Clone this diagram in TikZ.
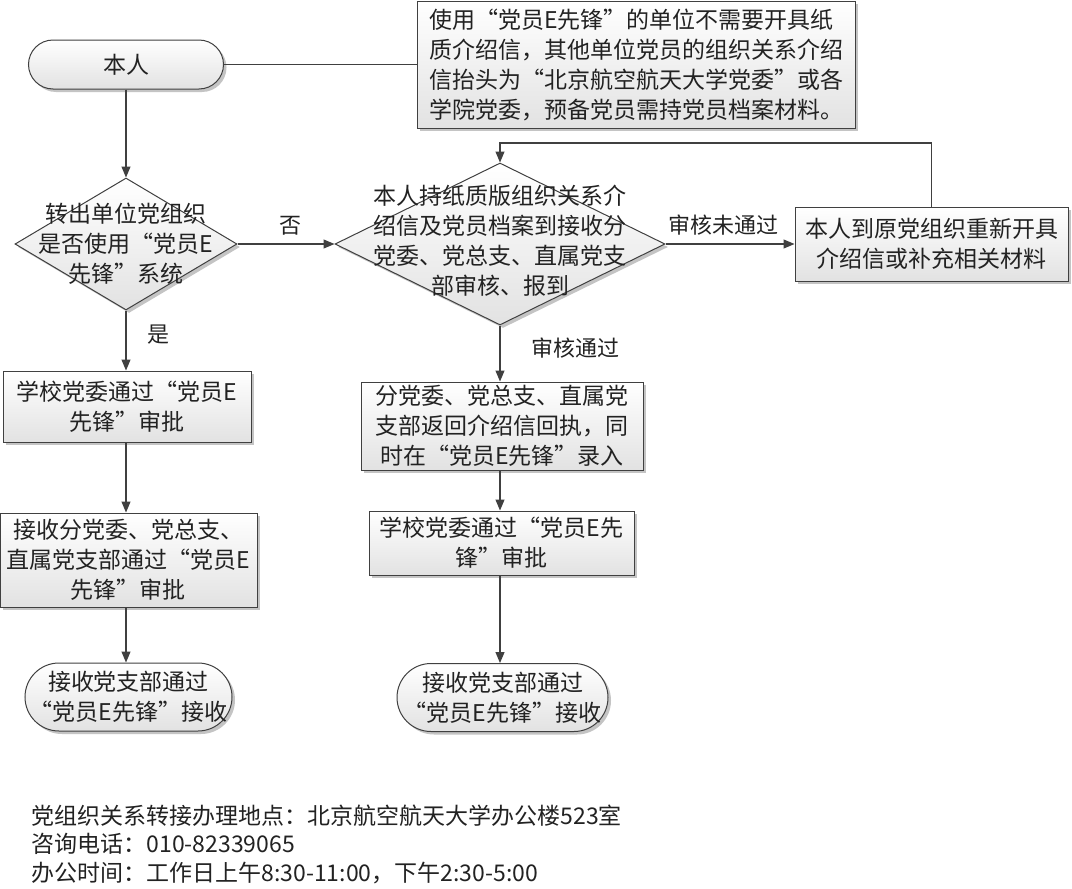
\documentclass[tikz,border=0pt]{standalone}
\usepackage{fontspec}
\setmainfont{Noto Sans CJK SC}
\usetikzlibrary{shapes.geometric,shadows,arrows.meta}
\definecolor{ln}{HTML}{404040}
\definecolor{fillb}{HTML}{E2E2E2}
\definecolor{shd}{HTML}{C4C4C4}
\definecolor{txt}{HTML}{222222}
\begin{document}
\begin{tikzpicture}[x=1pt,y=-1pt,
  every node/.style={font=\fontsize{23}{30}\selectfont, text=txt},
  shp/.style={draw=ln, line width=1pt, top color=white, bottom color=fillb,
    drop shadow={shadow xshift=3pt, shadow yshift=-3pt, fill=shd, opacity=1},
    inner sep=0pt, align=center},
  boxnode/.style={shp, rectangle},
  termnode/.style={shp, rectangle, rounded corners=#1},
  dianode/.style={shp, diamond},
  conn/.style={draw=ln, line width=1.2pt},
  arr/.style={conn, -{Triangle[length=11pt,width=9pt]}},
  lbl/.style={font=\fontsize{22}{24}\selectfont}
]
\useasboundingbox[fill=white] (0,0) rectangle (1072,889);

% nodes
\node[termnode=24.5pt, minimum width=195pt, minimum height=49pt] (start) at (126,64.5) {本人};
\node[boxnode, minimum width=438pt, minimum height=127pt, align=left] (note) at (636,64.5)
  {使用“党员E先锋”的单位不需要开具纸\\质介绍信，其他单位党员的组织关系介绍\\信抬头为“北京航空航天大学党委”或各\\学院党委，预备党员需持党员档案材料。};

\node[dianode, minimum width=222pt, minimum height=132pt] (d1) at (126,244) {};
\node[align=center] (d1t) at (d1) {转出单位党组织\\是否使用“党员E\\先锋”系统};

\node[dianode, minimum width=330pt, minimum height=162pt] (d2) at (500,244) {};
\node[align=center] (d2t) at (500,241) {本人持纸质版组织关系介\\绍信及党员档案到接收分\\党委、党总支、直属党支\\部审核、报到};

\node[boxnode, minimum width=273pt, minimum height=74pt] (redo) at (931.5,244) {本人到原党组织重新开具\\介绍信或补充相关材料};

\node[boxnode, minimum width=248pt, minimum height=71pt] (l1) at (127,406.5) {学校党委通过“党员E\\先锋”审批};
\node[boxnode, minimum width=257pt, minimum height=94pt] (l2) at (128.5,560) {接收分党委、党总支、\\直属党支部通过“党员E\\先锋”审批};
\node[termnode=34pt, minimum width=207pt, minimum height=68pt] (l3) at (128.5,697) {接收党支部通过\\“党员E先锋”接收};

\node[boxnode, minimum width=282pt, minimum height=88pt] (m1) at (502,426) {分党委、党总支、直属党\\支部返回介绍信回执，同\\时在“党员E先锋”录入};
\node[boxnode, minimum width=265pt, minimum height=64pt] (m2) at (501.5,543) {学校党委通过“党员E先\\锋”审批};
\node[termnode=34pt, minimum width=211pt, minimum height=68pt] (m3) at (502.5,697.5) {接收党支部通过\\“党员E先锋”接收};

\coordinate (fbA) at (931.5,143);
\coordinate (fbB) at (500,143);

% connectors
\draw[conn] (start.east) -- (note.west |- start.east);
\draw[arr] (start.south -| d1.north) -- (d1.north);
\draw[arr] (d1.east) -- node[lbl, above=5pt, pos=0.55] (no) {否} (d2.west);
\draw[arr] (d2.east) -- node[lbl, above=5pt, pos=0.45] (fail) {审核未通过} (redo.west);
\draw[arr] (redo.north) -- (fbA) -- (fbB) -- (d2.north);
\draw[arr] (d1.south) -- node[lbl, right=18pt, pos=0.4] (yes) {是} (d1.south |- l1.north);
\draw[arr] (l1.south -| d1.south) -- (d1.south |- l2.north);
\draw[arr] (l2.south -| d1.south) -- (d1.south |- l3.north);
\draw[arr] (d2.south) -- node[lbl, right=28pt, pos=0.4] (pass) {审核通过} (d2.south |- m1.north);
\draw[arr] (m1.south -| d2.south) -- (d2.south |- m2.north);
\draw[arr] (m2.south -| d2.south) -- (d2.south |- m3.north);

% footer
\node[anchor=west, align=left, font=\fontsize{23}{28.5}\selectfont] (info) at (28,844)
  {党组织关系转接办理地点：北京航空航天大学办公楼523室\\咨询电话：010-82339065\\办公时间：工作日上午8:30-11:00，下午2:30-5:00};
\end{tikzpicture}
\end{document}
